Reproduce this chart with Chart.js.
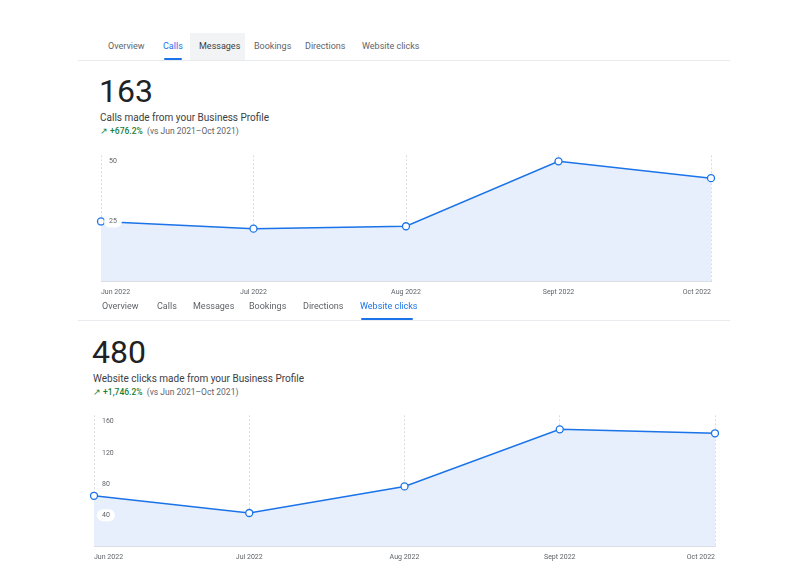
<!DOCTYPE html>
<html>
<head>
<meta charset="utf-8">
<script src="https://cdn.jsdelivr.net/npm/chart.js@4"></script>
<style>
  body { margin: 0; width: 800px; height: 586px; background: #fff; font-family: Roboto, sans-serif; position: relative; overflow: hidden; }
  .abs { position: absolute; white-space: nowrap; }
  .tab { position: absolute; font-size: 9px; color: #5f6368; line-height: 12px; }
  .tab.on { color: #1a73e8; }
  .uline { position: absolute; height: 2px; background: #1a73e8; border-radius: 1px; }
  .div { position: absolute; height: 1px; background: #e8eaed; left: 78px; width: 652px; }
  .big { font-size: 32px; color: #202124; line-height: 36px; }
  .sub { font-size: 10px; color: #3c4043; }
  .trend { font-size: 8.5px; color: #5f6368; }
  .trend b { color: #188038; font-weight: 500; }
  canvas { position: absolute; }
</style>
</head>
<body>
<!-- top panel -->
<div class="abs" style="left:190px;top:33px;width:55px;height:27px;background:#f1f3f4"></div>
<div class="tab" style="left:108px;top:40px">Overview</div>
<div class="tab on" style="left:163px;top:40px">Calls</div>
<div class="tab" style="left:199px;top:40px;color:#3c4043">Messages</div>
<div class="tab" style="left:254px;top:40px">Bookings</div>
<div class="tab" style="left:305px;top:40px">Directions</div>
<div class="tab" style="left:362px;top:40px">Website clicks</div>
<div class="uline" style="left:164px;top:58px;width:18px"></div>
<div class="div" style="top:60px"></div>
<div class="abs big" style="left:99px;top:73px">163</div>
<div class="abs sub" style="left:100px;top:112px">Calls made from your Business Profile</div>
<div class="abs trend" style="left:100px;top:126px"><b>&#x2197; +676.2%</b>&nbsp; (vs Jun 2021–Oct 2021)</div>
<canvas id="c1" style="left:95px;top:150px;width:622px;height:152px"></canvas>

<!-- bottom panel -->
<div class="tab" style="left:102px;top:300px">Overview</div>
<div class="tab" style="left:157px;top:300px">Calls</div>
<div class="tab" style="left:193px;top:300px">Messages</div>
<div class="tab" style="left:249px;top:300px">Bookings</div>
<div class="tab" style="left:303px;top:300px">Directions</div>
<div class="tab on" style="left:360px;top:300px">Website clicks</div>
<div class="uline" style="left:361px;top:318px;width:52px"></div>
<div class="div" style="top:320px"></div>
<div class="abs big" style="left:92px;top:334px">480</div>
<div class="abs sub" style="left:93px;top:373px">Website clicks made from your Business Profile</div>
<div class="abs trend" style="left:93px;top:387px"><b>&#x2197; +1,746.2%</b>&nbsp; (vs Jun 2021–Oct 2021)</div>
<canvas id="c2" style="left:88px;top:410px;width:633px;height:157px"></canvas>

<script>
const months = ['Jun 2022', 'Jul 2022', 'Aug 2022', 'Sept 2022', 'Oct 2022'];
const calls = [25, 22, 23, 50, 43];
const callsTicks = [25, 50];
const clicks = [65, 43, 77, 150, 145];
const clicksTicks = [40, 80, 120, 160];

// y labels sit inside the plot with a white pill behind them
const insideLabels = {
    id: 'insideLabels',
    afterDatasetsDraw(chart, args, opts) {
        const ctx = chart.ctx;
        const y = chart.scales.y;
        ctx.save();
        ctx.font = '7px Roboto';
        ctx.textBaseline = 'middle';
        opts.values.forEach(v => {
            const py = y.getPixelForValue(v);
            const tx = chart.chartArea.left + opts.dx;
            const w = ctx.measureText(String(v)).width;
            ctx.fillStyle = '#ffffff';
            ctx.beginPath();
            ctx.roundRect(tx - 5, py - 6, w + 10, 12, 6);
            ctx.fill();
            ctx.fillStyle = '#5f6368';
            ctx.fillText(String(v), tx, py);
        });
        ctx.restore();
    }
};

function makeChart(id, data, ticks, max, dx) {
    return new Chart(document.getElementById(id).getContext('2d'), {
        type: 'line',
        data: {
            labels: months,
            datasets: [{
                data: data,
                borderColor: '#1a73e8',
                borderWidth: 1.5,
                backgroundColor: '#e8effc',
                fill: 'origin',
                tension: 0,
                pointRadius: 3.5,
                pointBackgroundColor: '#ffffff',
                pointBorderColor: '#1a73e8',
                pointBorderWidth: 1.3,
                clip: false
            }]
        },
        plugins: [insideLabels],
        options: {
            responsive: false,
            animation: false,
            layout: { padding: { left: 5, right: 5, top: 5 } },
            plugins: {
                legend: { display: false },
                tooltip: { enabled: false },
                insideLabels: { values: ticks, dx: dx }
            },
            scales: {
                x: {
                    offset: false,
                    grid: { color: '#dadce0', drawTicks: false, tickBorderDash: [2, 2] },
                    border: { color: '#dadce0', width: 1, dash: [2, 2] },
                    ticks: { align: 'inner', padding: 6, maxRotation: 0, color: '#5f6368', font: { family: 'Roboto', size: 7 } }
                },
                y: { display: false, min: 0, max: max }
            }
        }
    });
}

makeChart('c1', calls, callsTicks, 52.5, 8);
makeChart('c2', clicks, clicksTicks, 168, 8);
</script>
</body>
</html>
